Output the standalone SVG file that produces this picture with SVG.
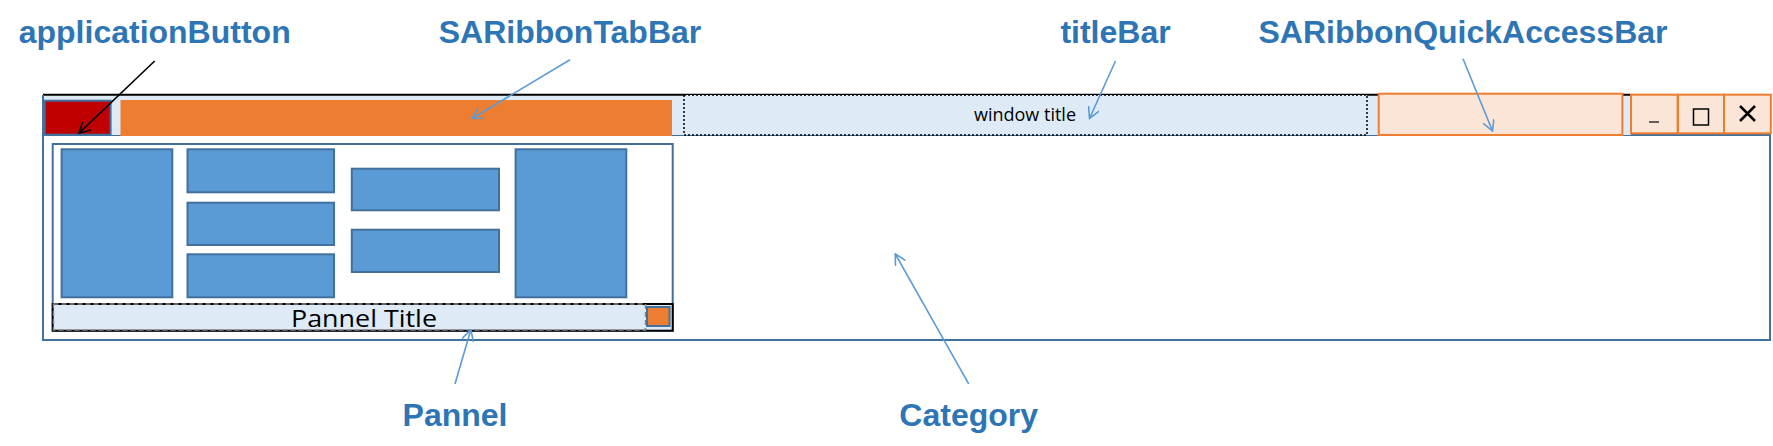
<svg xmlns="http://www.w3.org/2000/svg" width="1773" height="446" viewBox="0 0 1773 446">
<defs>
<style>
.lbl{font-family:"Liberation Sans",Arial,sans-serif;font-weight:bold;font-size:32px;fill:#2E75B6;text-anchor:middle}
.btn{fill:#5B9BD5;stroke:#41719C;stroke-width:2}
.qa{fill:#FBE5D6;stroke:#ED7D31;stroke-width:2}
.ar{fill:none;stroke:#5B9BD5;stroke-width:1.6;marker-end:url(#ab)}
</style>
<marker id="ab" viewBox="0 0 12 12" refX="11" refY="6" markerWidth="12" markerHeight="12" markerUnits="userSpaceOnUse" orient="auto"><path d="M0,0 L11,6 L0,12" fill="none" stroke="#5B9BD5" stroke-width="1.6"/></marker>
<marker id="ak" viewBox="0 0 12 12" refX="11" refY="6" markerWidth="12" markerHeight="12" markerUnits="userSpaceOnUse" orient="auto"><path d="M0,0 L11,6 L0,12" fill="none" stroke="#000" stroke-width="1.6"/></marker>
</defs>
<rect width="1773" height="446" fill="#fff"/>
<g id="category"><rect x="43" y="135" width="1727" height="205" fill="#fff" stroke="#41719C" stroke-width="2"/></g>
<g id="titleBarBg"><rect x="43" y="95" width="1588" height="40" fill="#DEEBF7" stroke="none"/><line x1="43" y1="94.7" x2="1631" y2="94.7" stroke="#000" stroke-width="2"/><line x1="43" y1="95" x2="43" y2="135" stroke="#41719C" stroke-width="2"/></g>
<g id="applicationButton"><rect x="44.6" y="100.7" width="66" height="34" fill="#C00000" stroke="#41719C" stroke-width="2"/></g>
<g id="tabBar"><rect x="120.5" y="100" width="551.5" height="36" fill="#ED7D31"/></g>
<g id="titleBar"><rect x="684" y="95" width="683" height="40" fill="#DEEBF7" stroke="#000" stroke-width="1.5" stroke-dasharray="2,2"/><text x="1025" y="121" font-family="'Open Sans','Liberation Sans',sans-serif" font-size="18" text-anchor="middle">window title</text></g>
<g id="quickAccessBar"><rect class="qa" x="1378.7" y="93.7" width="243.7" height="41.3"/></g>
<g id="sysButtons">
<rect class="qa" x="1631" y="94.7" width="46.6" height="38.6"/>
<rect class="qa" x="1678" y="94.7" width="46" height="38.6"/>
<rect class="qa" x="1724" y="94.7" width="46.8" height="38.6"/>
<line x1="1649" y1="122" x2="1659" y2="122" stroke="#000" stroke-width="1.2"/>
<rect x="1693.5" y="109" width="15" height="16" fill="none" stroke="#000" stroke-width="1.5"/>
<path d="M1740,106 L1755,121 M1755,106 L1740,121" stroke="#000" stroke-width="2.5"/>
</g>
<g id="pannel">
<rect x="52.7" y="144" width="620" height="186.7" fill="#fff" stroke="#41719C" stroke-width="2"/>
<rect x="52.7" y="304" width="620" height="26.7" fill="#DEEBF7" stroke="#000" stroke-width="2"/>
<rect x="53.5" y="304" width="592" height="26" fill="none" stroke="#888" stroke-width="1.5" stroke-dasharray="5,3"/>
<rect x="647" y="307" width="22.6" height="19" fill="#ED7D31" stroke="#41719C" stroke-width="2"/>
<text x="364" y="327" font-family="'Open Sans','Liberation Sans',sans-serif" font-size="23" text-anchor="middle" textLength="146" lengthAdjust="spacingAndGlyphs">Pannel Title</text>
<rect class="btn" x="61.6" y="149.3" width="110.7" height="148"/>
<rect class="btn" x="187.5" y="149.3" width="146.5" height="43"/>
<rect class="btn" x="187.5" y="202.7" width="146.5" height="42.3"/>
<rect class="btn" x="187.5" y="254.3" width="146.5" height="43"/>
<rect class="btn" x="351.8" y="168.7" width="147.2" height="41.6"/>
<rect class="btn" x="351.8" y="229.7" width="147.2" height="42.3"/>
<rect class="btn" x="515.6" y="149.3" width="110.7" height="148"/>
</g>
<g id="connectors">
<line x1="154.7" y1="61" x2="79" y2="133.2" stroke="#000" stroke-width="1.6" marker-end="url(#ak)"/>
<line class="ar" x1="570" y1="59.8" x2="472" y2="118.5"/>
<line class="ar" x1="1115.5" y1="61" x2="1089.5" y2="118.5"/>
<line class="ar" x1="1463" y1="58.7" x2="1492.5" y2="131"/>
<line class="ar" x1="968.7" y1="383.9" x2="895.3" y2="254"/>
<line class="ar" x1="455" y1="384" x2="470.8" y2="329.7"/>
</g>
<g id="labels">
<text class="lbl" x="154.7" y="43">applicationButton</text>
<text class="lbl" x="570" y="43">SARibbonTabBar</text>
<text class="lbl" x="1115.5" y="43">titleBar</text>
<text class="lbl" x="1463" y="43">SARibbonQuickAccessBar</text>
<text class="lbl" x="455" y="426">Pannel</text>
<text class="lbl" x="968.7" y="426">Category</text>
</g>
</svg>
